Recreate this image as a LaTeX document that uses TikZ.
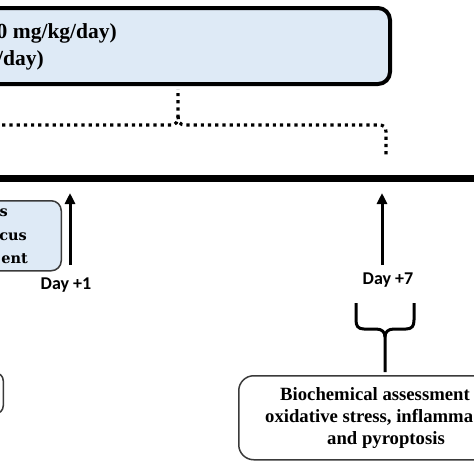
\documentclass[tikz,border=0pt]{standalone}
\usepackage{fontspec}
\setmainfont{Liberation Serif}
\newfontfamily\labelfont{Carlito}
\newfontfamily\slabfont{DejaVu Serif}
\usetikzlibrary{arrows.meta}
\definecolor{paleblue}{HTML}{DEEAF6}
\definecolor{edgegray}{HTML}{3A3A3A}
\tikzset{
  stage/.style={draw=black, line width=4pt, fill=paleblue, rounded corners=12pt},
  subbox/.style={draw=edgegray, line width=1.5pt, fill=paleblue, rounded corners=10pt},
  outbox/.style={draw=edgegray, line width=1.5pt, fill=white, rounded corners=15pt},
  toptext/.style={font=\bfseries\fontsize{21.5}{27}\selectfont, inner sep=0pt},
  bottext/.style={font=\bfseries\fontsize{18.7}{22.5}\selectfont, inner sep=0pt},
  slabtext/.style={font=\slabfont\bfseries\fontsize{14.5}{23}\selectfont, inner sep=0pt},
  daytext/.style={font=\labelfont\bfseries\fontsize{18}{20}\selectfont, inner sep=0pt},
  timeline/.style={line width=7pt},
  uparrow/.style={line width=3pt, -{Triangle[width=10pt,length=11pt]}},
  bracket/.style={line width=3pt, line join=round},
  dotbrace/.style={line width=3.2pt, dash pattern=on 3.2pt off 4pt}
}
\begin{document}
\begin{tikzpicture}[x=1pt,y=-1pt]
\useasboundingbox (0,0) rectangle (474,474);
\clip (0,0) rectangle (474,474);
% top box
\node[stage, minimum width=450pt, minimum height=76pt, anchor=north east] (topbox) at (392,6) {};
\node[toptext, anchor=east] (t1) at (117,33) {0 mg/kg/day)};
\node[toptext, anchor=east] (t2) at (44,60) {/day)};
% dotted brace
\coordinate (bt) at (178,89);
\coordinate (bl) at (-5,125);
\coordinate (br) at (386,158);
\draw[dotbrace] (bl) -- (171,125) .. controls (176,125) and (178,122) .. (178,116) -- (bt);
\draw[dotbrace] (178,116) .. controls (178,122) and (180,125) .. (185,125) -- (379,125) .. controls (384,125) and (386,127) .. (386,132) -- (br);
% timeline
\coordinate (tl) at (-5,178.5);
\coordinate (tr) at (480,178.5);
\draw[timeline] (tl) -- (tr);
% left box
\node[subbox, minimum width=90pt, minimum height=70pt, anchor=north east] (leftbox) at (62,200) {};
\node[slabtext, anchor=east] (l1) at (8,213) {s};
\node[slabtext, anchor=east] (l2) at (27,237) {cus};
\node[slabtext, anchor=east] (l3) at (28,259) {ent};
% arrows
\coordinate (a1s) at (70,265);
\coordinate (a1e) at (70,193);
\draw[uparrow] (a1s) -- (a1e);
\node[daytext] (day1) at (66,285) {Day +1};
\coordinate (a7s) at (382,265);
\coordinate (a7e) at (382,193);
\draw[uparrow] (a7s) -- (a7e);
\node[daytext] (day7) at (388,280) {Day +7};
% curly bracket
\coordinate (cl) at (356,303);
\coordinate (cr) at (414,303);
\coordinate (cm) at (385,337);
\coordinate (cs) at (385,372);
\draw[bracket] (cl) -- (356,320) .. controls (356,326) and (358,329) .. (364,329) -- (376,329) .. controls (382,329) and (385,332) .. (cm) -- (cs);
\draw[bracket] (cr) -- (414,320) .. controls (414,326) and (412,329) .. (406,329) -- (394,329) .. controls (388,329) and (385,332) .. (cm);
% bottom box
\node[outbox, minimum width=300pt, minimum height=84pt, anchor=north west] (botbox) at (238,375) {};
\node[bottext, anchor=west] (b1) at (280,394) {Biochemical assessment};
\node[bottext, anchor=west] (b2) at (265,417) {oxidative stress, inflamma};
\node[bottext] (b3) at (386,440) {and pyroptosis};
% bottom-left box
\node[outbox, rounded corners=8pt, minimum width=60pt, minimum height=41pt, anchor=north east] (blbox) at (4,372) {};
\end{tikzpicture}
\end{document}
